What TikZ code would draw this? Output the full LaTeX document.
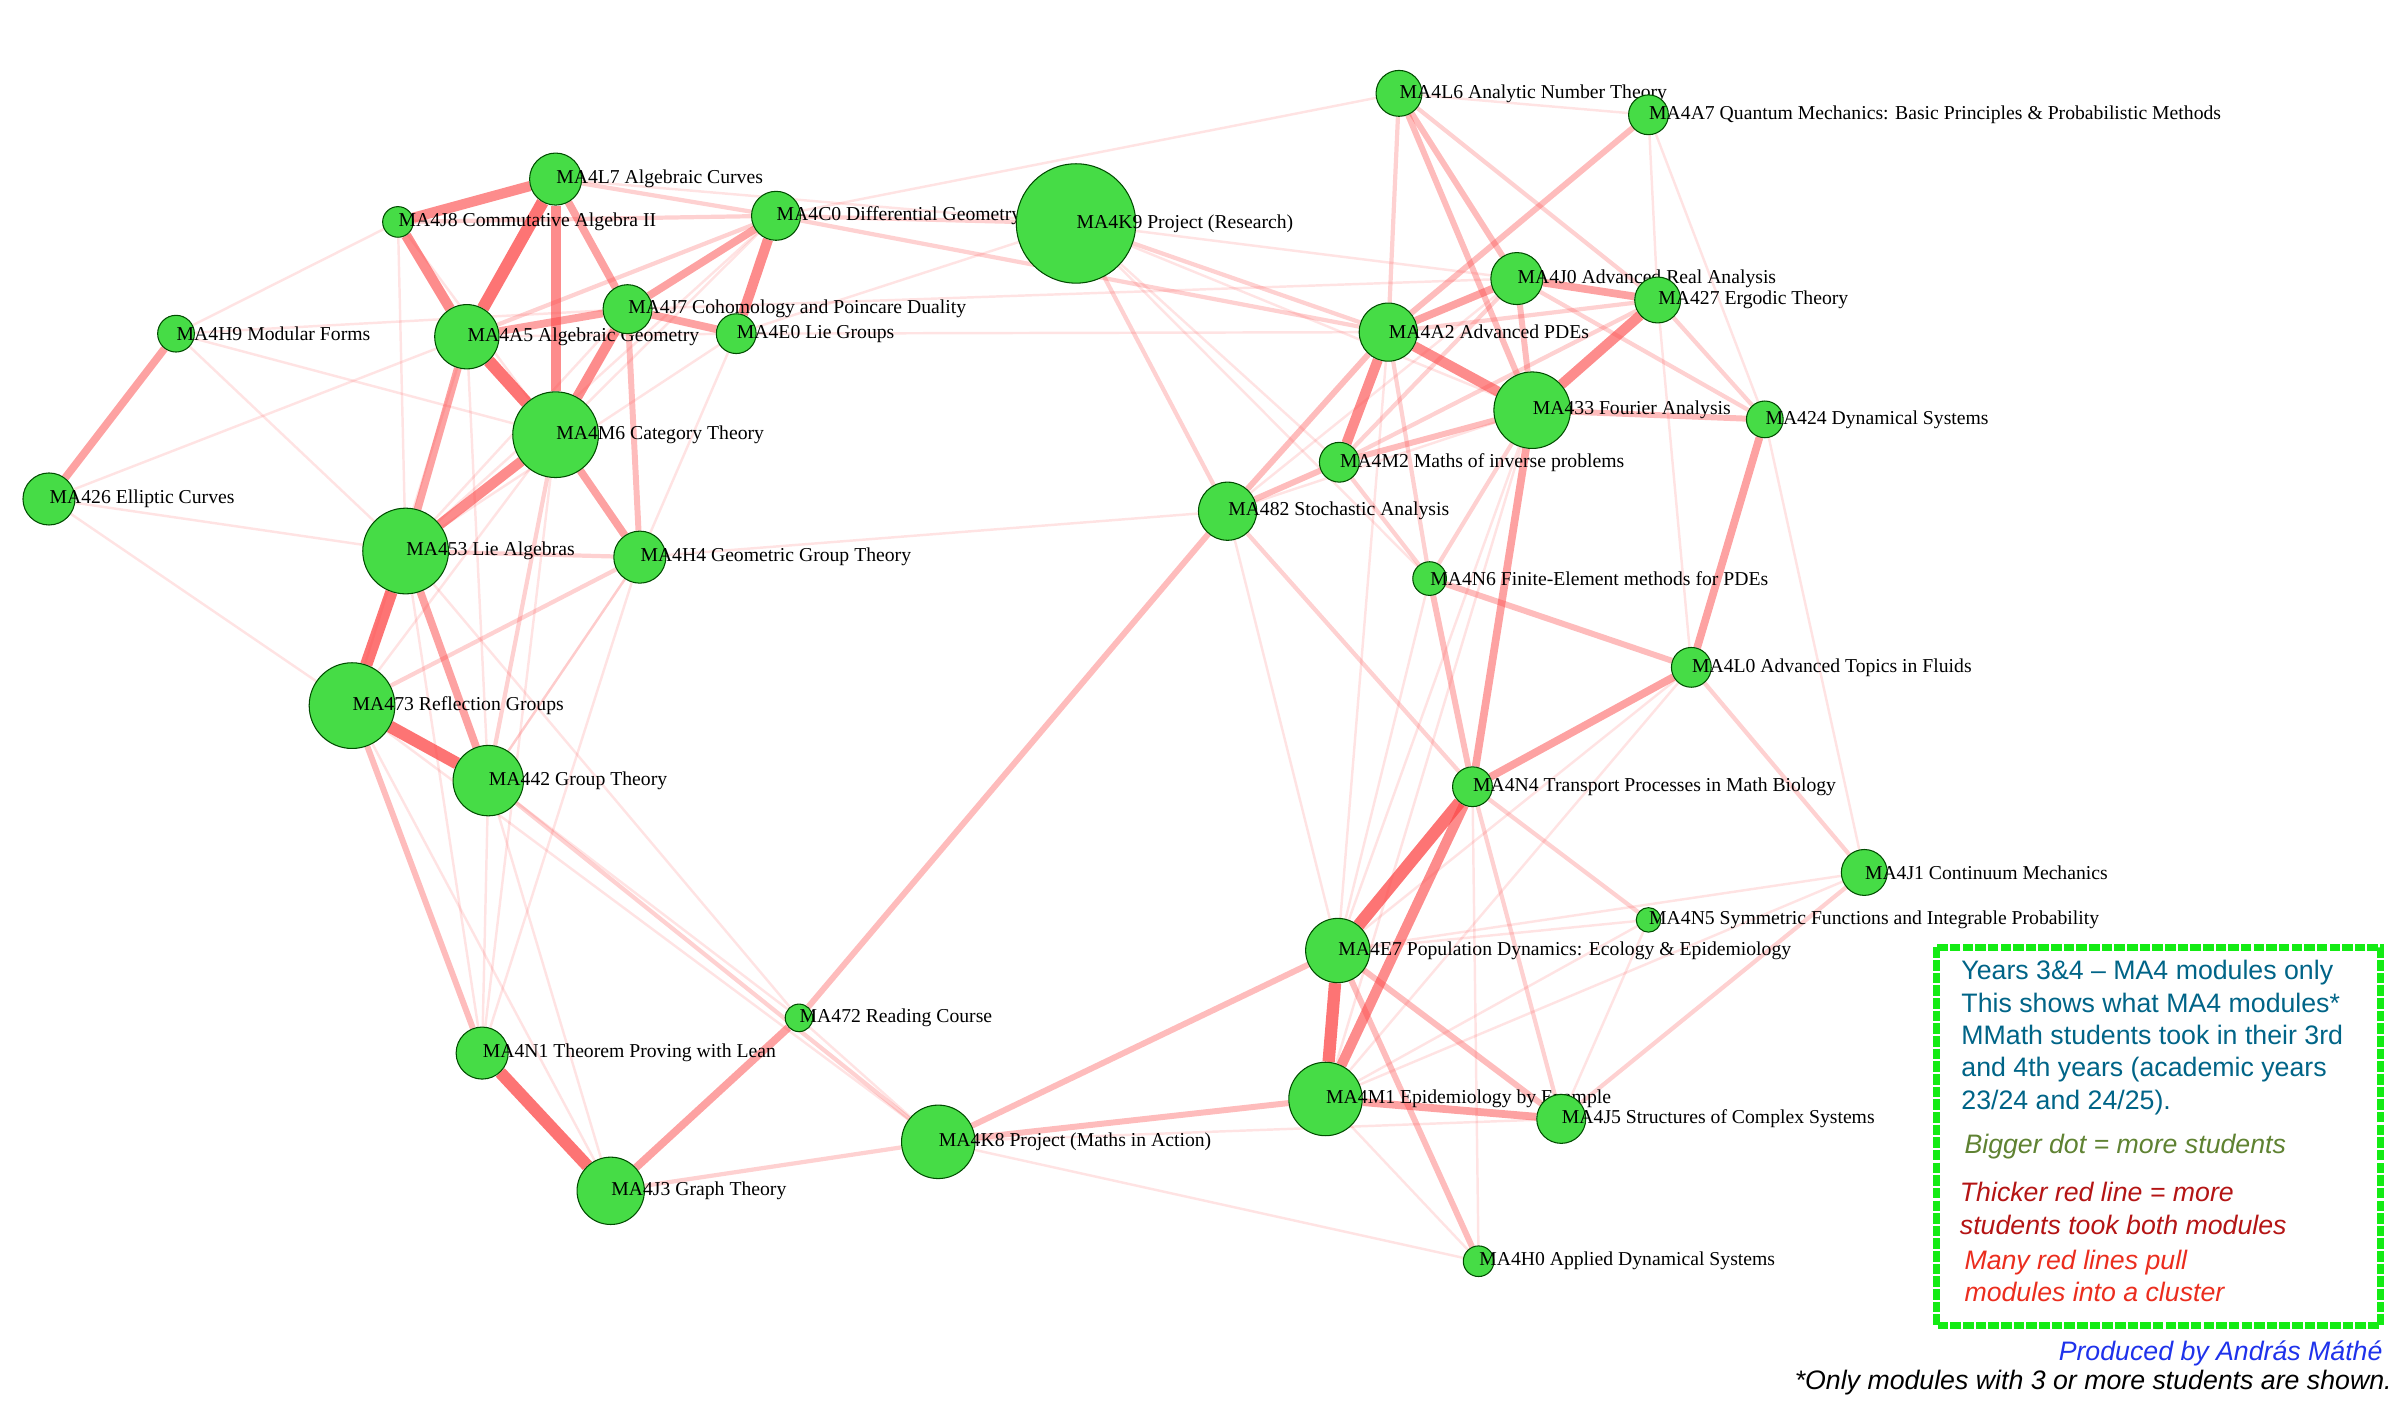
\documentclass[tikz,border=0pt]{standalone}
\usepackage{fontspec}
\setmainfont{Liberation Serif}
\newfontfamily\sansf{Liberation Sans}
\pgfdeclarelayer{bg}
\pgfsetlayers{bg,main}
\definecolor{ed}{RGB}{252,70,70}
\definecolor{nd}{RGB}{70,220,70}
\definecolor{teal}{RGB}{0,100,135}
\tikzset{
 mod/.style={circle,fill=nd,draw=black!70!green,line width=0.3pt,inner sep=0pt},
 lab/.style={anchor=west,inner sep=0pt,font=\fontsize{5.6}{6.5}\selectfont},
 w1/.style={draw=ed,line width=0.7pt,opacity=.15},
 w2/.style={draw=ed,line width=1.2pt,opacity=.25},
 w3/.style={draw=ed,line width=1.7pt,opacity=.36},
 w4/.style={draw=ed,line width=2.2pt,opacity=.5},
 w5/.style={draw=ed,line width=2.9pt,opacity=.62},
 w6/.style={draw=ed,line width=3.5pt,opacity=.75},
}
\newcommand{\md}[5]{\node[mod,minimum size={2*#4*0.01531cm}] (#1) at (#2,#3) {};
 \node[lab] (l#1) at (#2,#3) {#5};}
\newcommand{\ed}[3]{\draw[#1] (#2) -- (#3);}
\begin{document}
\begin{tikzpicture}[x=0.01531cm,y=-0.01531cm]
\useasboundingbox (0,0) rectangle (1568,915);
\md{L6}{914}{61}{15}{MA4L6 Analytic Number Theory}
\md{A7}{1077}{75}{13}{MA4A7 Quantum Mechanics: Basic Principles \& Probabilistic Methods}
\md{L7}{363}{117}{17}{MA4L7 Algebraic Curves}
\md{J8}{260}{145}{10}{MA4J8 Commutative Algebra II}
\md{C0}{507}{141}{16}{MA4C0 Differential Geometry}
\md{K9}{703}{146}{39}{MA4K9 Project (Research)}
\md{J0}{991}{182}{17}{MA4J0 Advanced Real Analysis}
\md{427}{1083}{196}{15}{MA427 Ergodic Theory}
\md{H9}{115}{218}{12}{MA4H9 Modular Forms}
\md{A5}{305}{220}{21}{MA4A5 Algebraic Geometry}
\md{J7}{410}{202}{16}{MA4J7 Cohomology and Poincare Duality}
\md{E0}{481}{218}{13}{MA4E0 Lie Groups}
\md{A2}{907}{217}{19}{MA4A2 Advanced PDEs}
\md{433}{1001}{268}{25}{MA433 Fourier Analysis}
\md{424}{1153}{274}{12}{MA424 Dynamical Systems}
\md{M6}{363}{284}{28}{MA4M6 Category Theory}
\md{M2}{875}{302}{13}{MA4M2 Maths of inverse problems}
\md{426}{32}{326}{17}{MA426 Elliptic Curves}
\md{482}{802}{334}{19}{MA482 Stochastic Analysis}
\md{453}{265}{360}{28}{MA453 Lie Algebras}
\md{H4}{418}{364}{17}{MA4H4 Geometric Group Theory}
\md{N6}{934}{378}{11}{MA4N6 Finite-Element methods for PDEs}
\md{L0}{1105}{436}{13}{MA4L0 Advanced Topics in Fluids}
\md{473}{230}{461}{28}{MA473 Reflection Groups}
\md{442}{319}{510}{23}{MA442 Group Theory}
\md{N4}{962}{514}{13}{MA4N4 Transport Processes in Math Biology}
\md{J1}{1218}{570}{15}{MA4J1 Continuum Mechanics}
\md{N5}{1077}{601}{8}{MA4N5 Symmetric Functions and Integrable Probability}
\md{E7}{874}{621}{21}{MA4E7 Population Dynamics: Ecology \& Epidemiology}
\md{472}{522}{665}{9}{MA472 Reading Course}
\md{N1}{315}{688}{17}{MA4N1 Theorem Proving with Lean}
\md{M1}{866}{718}{24}{MA4M1 Epidemiology by Example}
\md{J5}{1020}{731}{16}{MA4J5 Structures of Complex Systems}
\md{K8}{613}{746}{24}{MA4K8 Project (Maths in Action)}
\md{J3}{399}{778}{22}{MA4J3 Graph Theory}
\md{H0}{966}{824}{10}{MA4H0 Applied Dynamical Systems}
\begin{pgfonlayer}{bg}
\ed{w6}{L7}{A5}\ed{w5}{L7}{M6}\ed{w5}{L7}{J8}\ed{w5}{J8}{A5}\ed{w6}{A5}{M6}
\ed{w5}{J7}{M6}\ed{w4}{J7}{A5}\ed{w4}{L7}{J7}\ed{w5}{C0}{E0}\ed{w4}{C0}{J7}
\ed{w4}{J7}{E0}\ed{w4}{A5}{453}\ed{w5}{M6}{453}\ed{w6}{453}{473}\ed{w6}{473}{442}
\ed{w4}{453}{442}\ed{w4}{M6}{H4}\ed{w3}{J7}{H4}\ed{w4}{H9}{426}\ed{w6}{N1}{J3}
\ed{w4}{J3}{472}\ed{w3}{472}{482}\ed{w2}{J3}{K8}\ed{w3}{K8}{E7}\ed{w3}{K8}{M1}
\ed{w4}{M1}{J5}\ed{w6}{E7}{M1}\ed{w6}{E7}{N4}\ed{w5}{M1}{N4}\ed{w4}{N4}{L0}
\ed{w4}{L0}{424}\ed{w4}{N4}{433}\ed{w5}{433}{A2}\ed{w4}{A2}{J0}\ed{w4}{J0}{427}
\ed{w5}{433}{427}\ed{w3}{433}{J0}\ed{w5}{A2}{M2}\ed{w3}{M2}{482}\ed{w3}{M2}{433}
\ed{w3}{A2}{482}\ed{w3}{L6}{J0}\ed{w3}{L6}{433}\ed{w3}{A7}{A2}\ed{w2}{L6}{427}
\ed{w3}{N6}{L0}\ed{w3}{N6}{N4}\ed{w2}{M2}{N6}\ed{w2}{A2}{N6}\ed{w3}{433}{424}
\ed{w2}{427}{424}\ed{w2}{J0}{424}\ed{w3}{E7}{J5}\ed{w3}{E7}{H0}\ed{w3}{473}{N1}
\ed{w2}{442}{K8}\ed{w2}{N4}{J5}\ed{w2}{N4}{N5}\ed{w2}{J1}{L0}\ed{w2}{J1}{J5}
\ed{w1}{N5}{J5}\ed{w2}{K9}{A2}\ed{w2}{K9}{482}\ed{w1}{K9}{433}\ed{w2}{K9}{C0}
\ed{w1}{K9}{L7}\ed{w1}{K9}{J0}\ed{w1}{K9}{M2}\ed{w1}{K9}{N6}\ed{w2}{C0}{A2}
\ed{w2}{L7}{C0}\ed{w2}{J8}{C0}\ed{w2}{A5}{C0}\ed{w2}{453}{H4}\ed{w2}{473}{H4}
\ed{w1}{426}{453}\ed{w1}{426}{A5}\ed{w1}{426}{473}\ed{w1}{H9}{453}\ed{w1}{H9}{J7}
\ed{w2}{442}{M6}\ed{w1}{442}{A5}\ed{w1}{442}{H4}\ed{w1}{N1}{M6}\ed{w1}{N1}{H4}
\ed{w1}{N1}{453}\ed{w1}{J3}{442}\ed{w1}{J3}{473}\ed{w2}{482}{N4}\ed{w1}{482}{E7}
\ed{w2}{L6}{A2}\ed{w1}{L6}{C0}\ed{w1}{L6}{A7}\ed{w2}{427}{A2}\ed{w2}{427}{M2}
\ed{w2}{J0}{M2}\ed{w1}{A7}{427}\ed{w1}{A7}{424}\ed{w1}{427}{L0}\ed{w2}{433}{N6}
\ed{w1}{433}{E7}\ed{w1}{433}{M1}\ed{w1}{A2}{E7}\ed{w1}{N6}{E7}\ed{w1}{L0}{E7}
\ed{w1}{L0}{M1}\ed{w1}{J1}{E7}\ed{w1}{J1}{M1}\ed{w1}{N5}{M1}\ed{w1}{K8}{J5}
\ed{w1}{K8}{H0}\ed{w1}{K8}{473}\ed{w1}{472}{K8}\ed{w1}{472}{453}\ed{w1}{472}{442}
\ed{w1}{M6}{C0}\ed{w1}{A5}{E0}\ed{w1}{453}{J7}\ed{w1}{453}{E0}\ed{w1}{453}{C0}
\ed{w1}{H9}{M6}\ed{w1}{H9}{J8}\ed{w1}{J8}{453}\ed{w1}{J8}{M6}\ed{w1}{A5}{473}
\ed{w1}{M6}{473}\ed{w1}{H4}{442}\ed{w1}{E0}{H4}\ed{w1}{K9}{E0}\ed{w1}{J7}{J0}
\ed{w1}{E0}{A2}\ed{w1}{H4}{482}\ed{w1}{N1}{442}\ed{w1}{482}{433}\ed{w1}{482}{J0}
\ed{w1}{E7}{N5}\ed{w1}{424}{J1}\ed{w1}{M1}{H0}\ed{w1}{N4}{H0}
\end{pgfonlayer}
\draw[draw={rgb,255:red,20;green,235;blue,20},line width=2pt,dash pattern=on 3pt off 0.6pt] (1265,619) rectangle (1555,866);
\node (t1) [anchor=north west,align=left,inner sep=0pt,text=teal,font=\sansf\fontsize{7.6}{9.2}\selectfont] at (1281,627)
 {Years 3\&4 – MA4 modules only\\This shows what MA4 modules*\\MMath students took in their 3rd\\and 4th years (academic years\\23/24 and 24/25).};
\node (t2) [anchor=west,inner sep=0pt,text={rgb,255:red,95;green,130;blue,50},font=\sansf\itshape\fontsize{7.6}{9.2}\selectfont] at (1283,749) {Bigger dot = more students};
\node (t3) [anchor=north west,align=left,inner sep=0pt,text={rgb,255:red,180;green,20;blue,20},font=\sansf\itshape\fontsize{7.6}{9.2}\selectfont] at (1280,772) {Thicker red line = more\\students took both modules};
\node (t4) [anchor=north west,align=left,inner sep=0pt,text={rgb,255:red,235;green,45;blue,30},font=\sansf\itshape\fontsize{7.6}{9.2}\selectfont] at (1283,816) {Many red lines pull\\modules into a cluster};
\node (t5) [anchor=east,inner sep=0pt,text={rgb,255:red,30;green,50;blue,235},font=\sansf\itshape\fontsize{7.6}{9.2}\selectfont] at (1557,884) {Produced by András Máthé};
\node (t6) [anchor=east,inner sep=0pt,font=\sansf\itshape\fontsize{7.6}{9.2}\selectfont] at (1563,903) {*Only modules with 3 or more students are shown.};
\end{tikzpicture}
\end{document}
